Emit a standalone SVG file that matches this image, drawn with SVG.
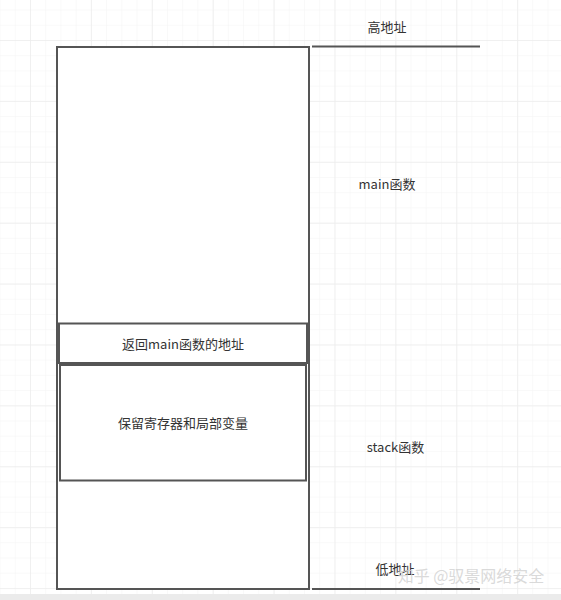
<svg xmlns="http://www.w3.org/2000/svg" width="561" height="600" viewBox="0 0 561 600">
<style>
text{font-family:"Noto Sans CJK SC","Liberation Sans",sans-serif;font-size:13px;fill:#333;text-anchor:middle}
.box{fill:#fff;stroke:#555;stroke-width:2}
.line{stroke:#555;stroke-width:2;fill:none}
</style>
<defs>
<pattern id="minor" x="30" y="40" width="15.22" height="15.22" patternUnits="userSpaceOnUse">
<path d="M0 0H15.22M0 0V15.22" stroke="#f4f4f4" stroke-width="1" fill="none"/>
</pattern>
<pattern id="major" x="30" y="40" width="60.9" height="60.9" patternUnits="userSpaceOnUse">
<path d="M0 0H60.9M0 0V60.9" stroke="#ededed" stroke-width="1.5" fill="none"/>
</pattern>
</defs>
<rect width="561" height="600" fill="#fff"/>
<rect width="561" height="600" fill="url(#minor)"/>
<rect width="561" height="600" fill="url(#major)"/>
<rect x="0" y="594" width="561" height="6" fill="#ebebeb"/>

<g id="stack-frame">
<rect class="box" x="57" y="47" width="252" height="542"/>
</g>
<g id="return-address">
<rect class="box" x="59" y="323.5" width="248" height="39.5" stroke-width="3"/>
<text x="183" y="349">返回main函数的地址</text>
</g>
<g id="saved-registers">
<rect class="box" x="60" y="365" width="246" height="115.5"/>
<text x="183" y="428">保留寄存器和局部变量</text>
</g>
<g id="connectors">
<line class="line" x1="312" y1="46.5" x2="480" y2="46.5"/>
<line class="line" x1="312" y1="589" x2="480" y2="589"/>
</g>
<g id="labels">
<text x="387" y="32">高地址</text>
<text x="387" y="189">main函数</text>
<text x="395.5" y="452">stack函数</text>
<text x="395" y="574">低地址</text>
</g>
<text x="471" y="582" style="font-size:16px;fill:#d0d0d0;fill-opacity:0.8">知乎 @驭景网络安全</text>
</svg>
